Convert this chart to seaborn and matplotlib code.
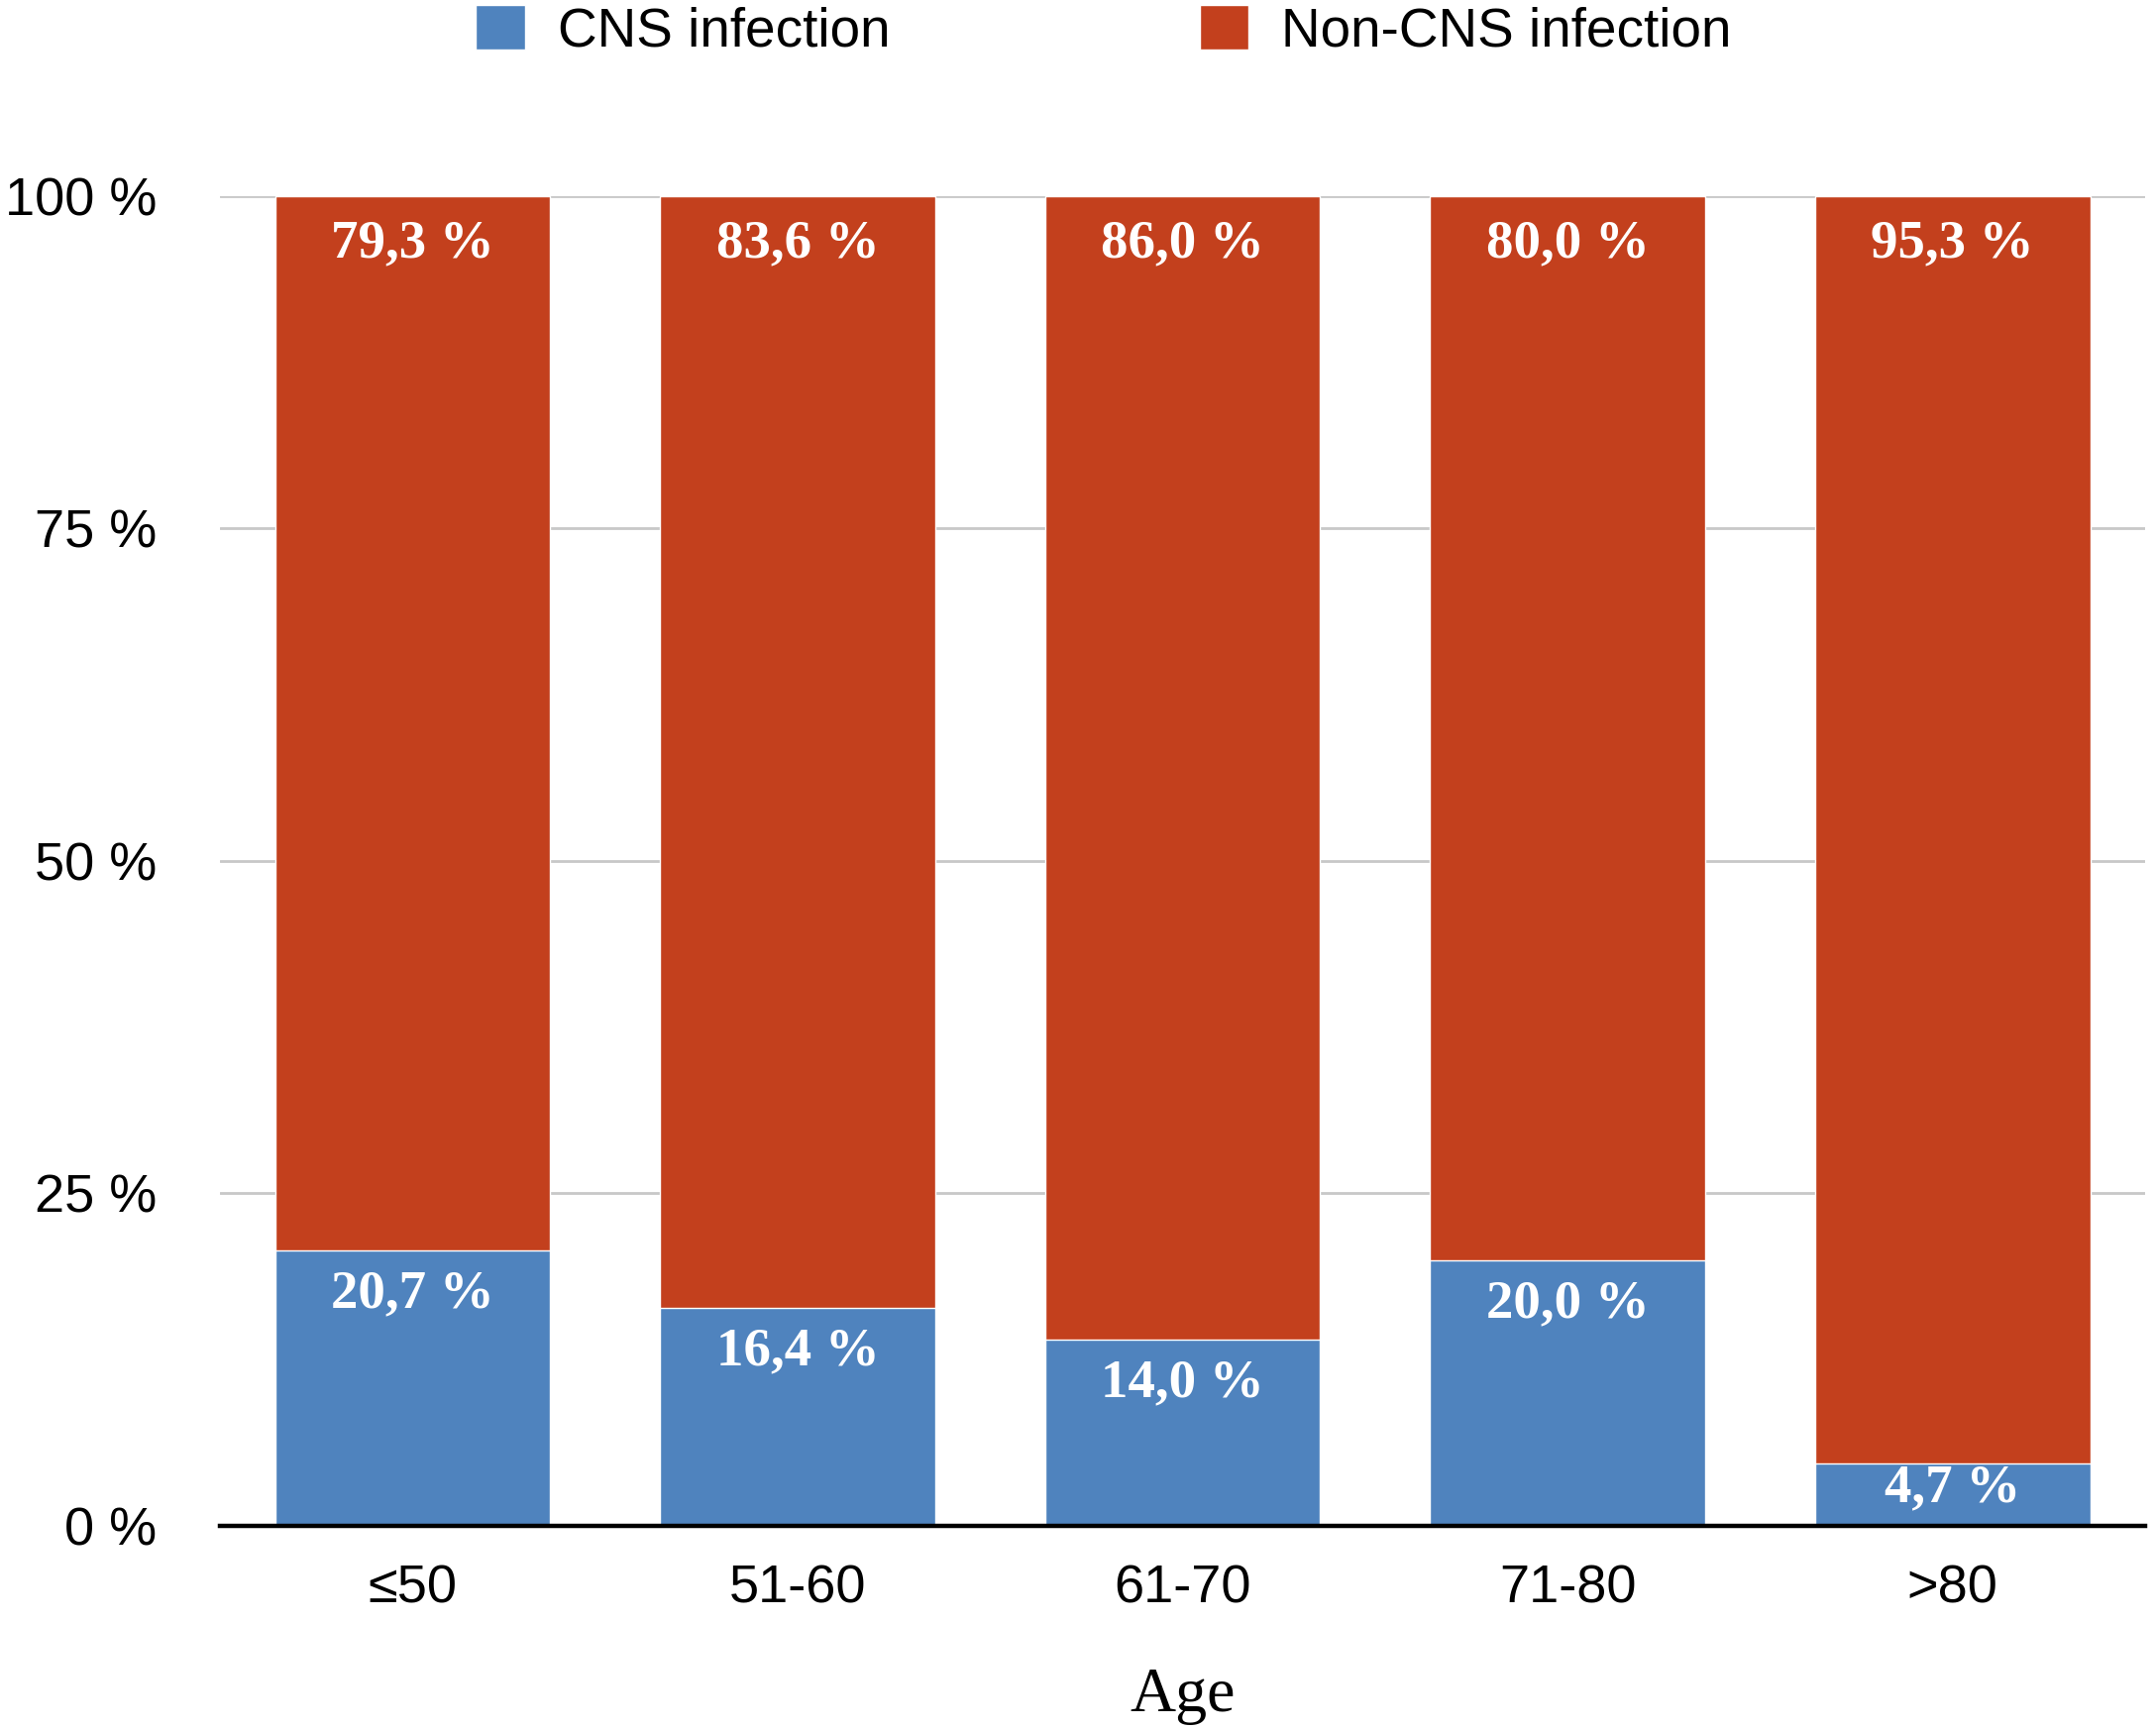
import matplotlib
matplotlib.use('Agg')
import matplotlib.pyplot as plt
import pandas as pd
import seaborn as sns

# age groups and shares (%)
age_groups = ['≤50', '51-60', '61-70', '71-80', '>80']
cns_pct = [20.7, 16.4, 14.0, 20.0, 4.7]
non_cns_pct = [79.3, 83.6, 86.0, 80.0, 95.3]
y_ticks = [0, 25, 50, 75, 100]

BLUE = '#4F83BE'
RED = '#C3401D'

sns.set_theme(style='white')
plt.rcParams['font.family'] = ['Liberation Sans', 'DejaVu Sans']
plt.rcParams['text.color'] = 'black'

df = pd.DataFrame({'age': age_groups, 'cns': cns_pct, 'non': non_cns_pct})
df['total'] = df['cns'] + df['non']

fig = plt.figure(figsize=(21.76, 17.46), dpi=100)
ax = fig.add_axes([0.102, 0.118, 0.893, 0.7686])

# stacked: full bar in red, CNS part drawn over it in blue
sns.barplot(data=df, x='age', y='total', color=RED, width=0.714, saturation=1,
            ax=ax, zorder=2, label='Non-CNS infection')
sns.barplot(data=df, x='age', y='cns', color=BLUE, width=0.714, saturation=1,
            ax=ax, zorder=3, label='CNS infection')

ax.set_xlim(-0.5, len(age_groups) - 0.5)
ax.set_ylim(0, 100)
ax.set_yticks(y_ticks)
ax.set_yticklabels([f'{v} %' for v in y_ticks])
ax.yaxis.grid(True, color='#C8C8C8', linewidth=2, zorder=0)
ax.tick_params(axis='y', length=0, pad=46, labelsize=39, labelcolor='black')
ax.tick_params(axis='x', length=0, pad=28, labelsize=39, labelcolor='black')
for s in ['top', 'right', 'left']:
    ax.spines[s].set_visible(False)
ax.spines['bottom'].set_color('black')
ax.spines['bottom'].set_linewidth(3.2)
ax.spines['bottom'].set_zorder(5)
ax.set_ylabel('')
ax.set_xlabel('Age', family=['Liberation Serif', 'DejaVu Serif'], fontsize=46,
              labelpad=39, color='black')

# value labels
lab_font = dict(family=['Liberation Serif', 'DejaVu Serif'], fontweight='bold',
                fontsize=39.5, color='white', ha='center', va='center', zorder=6)
for i, (c, n) in enumerate(zip(cns_pct, non_cns_pct)):
    ax.text(i, c + n - 3.6, f'{n:.1f} %'.replace('.', ','), **lab_font)
    ax.text(i, max(c - 3.3, 2.8), f'{c:.1f} %'.replace('.', ','), **lab_font)

handles, labels = ax.get_legend_handles_labels()
order = [labels.index('CNS infection'), labels.index('Non-CNS infection')]
leg = fig.legend([handles[k] for k in order], [labels[k] for k in order],
                 loc='center', bbox_to_anchor=(0.512, 0.982), ncol=2,
                 frameon=False, fontsize=39.5, handlelength=0.9, handleheight=0.9,
                 handletextpad=0.6, columnspacing=5.7, borderaxespad=0)
for t in leg.get_texts():
    t.set_color('black')
if ax.get_legend() is not None:
    ax.get_legend().remove()

fig.savefig('out.png', dpi=100)
